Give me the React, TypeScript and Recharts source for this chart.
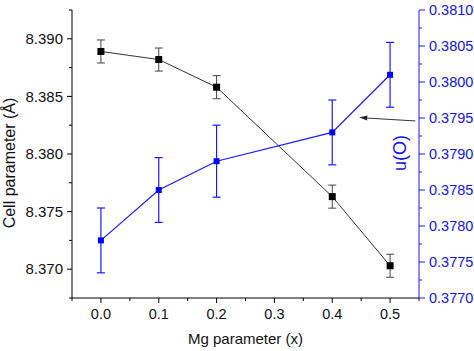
import React from "react";
import {
  ComposedChart,
  Line,
  XAxis,
  YAxis,
  ErrorBar,
  ReferenceLine,
} from "recharts";

// Mg content (x) and the two refined quantities
const mgX = [0, 0.1, 0.2, 0.4, 0.5];
const cellParam = [8.3889, 8.3882, 8.3858, 8.3763, 8.3703];
const cellErr = [0.001, 0.001, 0.001, 0.001, 0.001];
const uO = [0.3778, 0.3785, 0.3789, 0.3793, 0.3801];
const uOErr = [0.00045, 0.00045, 0.0005, 0.00045, 0.00045];

// axis ticks
const xTicks = [-0.05, 0, 0.05, 0.1, 0.15, 0.2, 0.25, 0.3, 0.35, 0.4, 0.45, 0.5, 0.55];
const leftTicks = [
  8.3675, 8.37, 8.3725, 8.375, 8.3775, 8.38, 8.3825, 8.385, 8.3875, 8.39, 8.3925,
];
const rightTicks = [
  0.377, 0.37725, 0.3775, 0.37775, 0.378, 0.37825, 0.3785, 0.37875, 0.379,
  0.37925, 0.3795, 0.37975, 0.38, 0.38025, 0.3805, 0.38075, 0.381,
];

// arrow pointing at the u(O) series: [tail, head] in (x, cell parameter)
const arrowSegment = [
  { x: 0.5436, y: 8.38287 },
  { x: 0.4467, y: 8.38316 },
];

const data = mgX.map((x, i) => ({
  x,
  cell: cellParam[i],
  cellErr: cellErr[i],
  u: uO[i],
  uErr: uOErr[i],
}));

const FONT = "'Liberation Sans', Arial, sans-serif";
const BLUE = "#1a1aff";
const BLUE_TEXT = "#1414e6";

const near = (v: number, step: number) =>
  Math.abs(v / step - Math.round(v / step)) < 1e-6;

const BottomTick = (props: any) => {
  const { x, y, payload } = props;
  const v = payload.value;
  const major = near(v, 0.1) && v > -0.01 && v < 0.51;
  return (
    <g>
      <line x1={x} y1={y} x2={x} y2={y + (major ? 5 : 3)} stroke="#000" />
      {major && (
        <text x={x} y={y + 21} textAnchor="middle" fontSize={14.5} fontFamily={FONT} fill="#111">
          {v.toFixed(1)}
        </text>
      )}
    </g>
  );
};

const TopTick = (props: any) => {
  const { x, y, payload } = props;
  const v = payload.value;
  const major = near(v, 0.1) && v > -0.01 && v < 0.51;
  return <line x1={x} y1={y} x2={x} y2={y + (major ? 5 : 3)} stroke="#000" />;
};

const LeftTick = (props: any) => {
  const { x, y, payload } = props;
  const v = payload.value;
  const major = near(v, 0.005);
  return (
    <g>
      <line x1={x} y1={y} x2={x - (major ? 5 : 3)} y2={y} stroke="#000" />
      {major && (
        <text x={x - 9} y={y} dy="0.35em" textAnchor="end" fontSize={15} fontFamily={FONT} fill="#111">
          {v.toFixed(3)}
        </text>
      )}
    </g>
  );
};

const RightTick = (props: any) => {
  const { x, y, payload } = props;
  const v = payload.value;
  const major = near(v, 0.0005);
  return (
    <g>
      <line x1={x} y1={y} x2={x + (major ? 6 : 3)} y2={y} stroke={BLUE} />
      {major && (
        <text x={x + 10} y={y} dy="0.35em" textAnchor="start" fontSize={14.5} fontFamily={FONT} fill={BLUE_TEXT}>
          {v.toFixed(4)}
        </text>
      )}
    </g>
  );
};

const square = (size: number, color: string) => (props: any) => {
  const { cx, cy, index } = props;
  if (cx == null || cy == null) return <g key={index} />;
  return (
    <rect key={index} x={cx - size / 2} y={cy - size / 2} width={size} height={size} fill={color} />
  );
};

const arrowShape = (props: any) => {
  const { x1, y1, x2, y2 } = props;
  const ang = Math.atan2(y2 - y1, x2 - x1);
  const len = 8;
  const hw = 2.5;
  const bx = x2 - len * Math.cos(ang);
  const by = y2 - len * Math.sin(ang);
  const px = -Math.sin(ang) * hw;
  const py = Math.cos(ang) * hw;
  return (
    <g>
      <line x1={x1} y1={y1} x2={bx} y2={by} stroke="#333" strokeWidth={1} />
      <polygon points={`${x2},${y2} ${bx + px},${by + py} ${bx - px},${by - py}`} fill="#222" />
    </g>
  );
};

export default function App() {
  return (
    <div style={{ position: "absolute", left: 0, top: 0, background: "#fff" }}>
      <ComposedChart
        width={474}
        height={351}
        data={data}
        margin={{ top: 10, right: 0, bottom: 0, left: 0 }}
      >
        <XAxis
          dataKey="x"
          type="number"
          domain={[-0.05, 0.55]}
          ticks={xTicks}
          interval={0}
          height={53}
          tickSize={0}
          tickMargin={0}
          tickLine={false}
          tick={<BottomTick />}
          axisLine={{ stroke: "#000" }}
          label={{
            content: (p: any) => {
              const vb = p.viewBox;
              return (
                <text x={vb.x + vb.width / 2 - 0} y={vb.y + 46} textAnchor="middle" fontSize={15} fontFamily={FONT} fill="#111">
                  Mg parameter (x)
                </text>
              );
            },
          }}
        />
        <XAxis
          xAxisId="top"
          orientation="top"
          type="number"
          domain={[-0.05, 0.55]}
          ticks={xTicks}
          interval={0}
          height={0}
          tickSize={0}
          tickMargin={0}
          tickLine={false}
          tick={<TopTick />}
          axisLine={{ stroke: "#000" }}
        />
        <YAxis
          yAxisId="left"
          type="number"
          domain={[8.3675, 8.3925]}
          ticks={leftTicks}
          interval={0}
          width={72}
          tickSize={0}
          tickMargin={0}
          tickLine={false}
          tick={<LeftTick />}
          axisLine={{ stroke: "#000" }}
          label={{
            content: (p: any) => {
              const vb = p.viewBox;
              const cx = vb.x + 15;
              const cy = vb.y + vb.height / 2 + 9;
              return (
                <text x={cx} y={cy} transform={`rotate(-90 ${cx} ${cy})`} textAnchor="middle" fontSize={16} fontFamily={FONT} fill="#111">
                  Cell parameter (Å)
                </text>
              );
            },
          }}
        />
        <YAxis
          yAxisId="right"
          orientation="right"
          type="number"
          domain={[0.377, 0.381]}
          ticks={rightTicks}
          interval={0}
          width={55}
          tickSize={0}
          tickMargin={0}
          tickLine={false}
          tick={<RightTick />}
          axisLine={{ stroke: BLUE }}
          label={{
            content: (p: any) => {
              const vb = p.viewBox;
              const cx = vb.x - 13;
              const cy = vb.y + 143;
              return (
                <text x={cx} y={cy} transform={`rotate(-90 ${cx} ${cy})`} textAnchor="middle" fontSize={18} fontFamily={FONT} fill={BLUE_TEXT}>
                  u(O)
                </text>
              );
            },
          }}
        />
        <Line
          yAxisId="left"
          dataKey="cell"
          type="linear"
          stroke="#333"
          strokeWidth={1}
          dot={square(7, "#000")}
          activeDot={false}
          isAnimationActive={false}
        >
          <ErrorBar dataKey="cellErr" direction="y" width={4} stroke="#444" strokeWidth={1} />
        </Line>
        <Line
          yAxisId="right"
          dataKey="u"
          type="linear"
          stroke={BLUE}
          strokeWidth={1.2}
          dot={square(6, "#0000ff")}
          activeDot={false}
          isAnimationActive={false}
        >
          <ErrorBar dataKey="uErr" direction="y" width={4} stroke={BLUE} strokeWidth={1.2} />
        </Line>
        <ReferenceLine
          yAxisId="left"
          segment={arrowSegment}
          shape={arrowShape}
          ifOverflow="visible"
        />
      </ComposedChart>
    </div>
  );
}
